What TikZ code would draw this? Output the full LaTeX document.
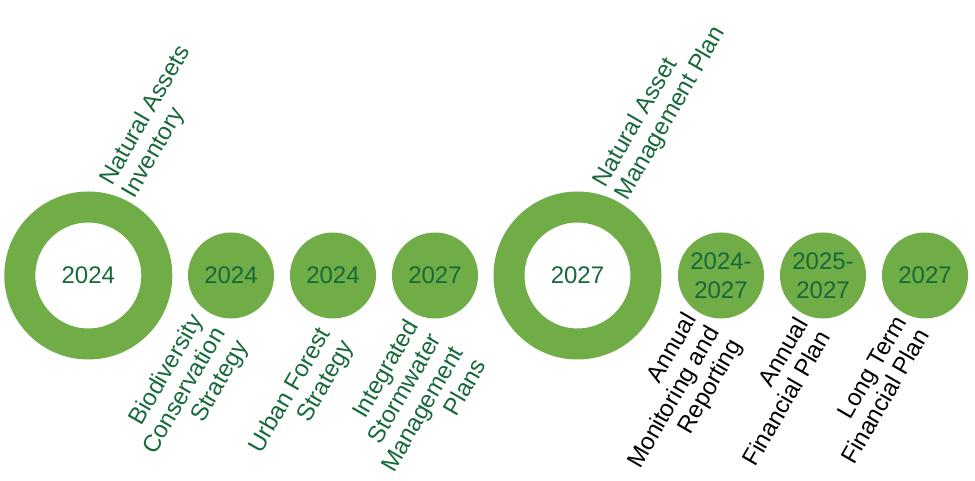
\documentclass[tikz,border=0pt]{standalone}
\usepackage{fontspec}
\setmainfont{Liberation Sans}
\definecolor{ringgreen}{HTML}{70AD47}
\definecolor{txtgreen}{HTML}{17693A}
\begin{document}
\begin{tikzpicture}[x=1pt,y=1pt,
  ringnode/.style={circle, draw=ringgreen, line width=31pt, minimum size=137pt, inner sep=0pt,
    text=txtgreen, font=\fontsize{24}{29}\selectfont, align=center},
  dotnode/.style={circle, fill=ringgreen, minimum size=86pt, inner sep=0pt,
    text=txtgreen, font=\fontsize{24}{29}\selectfont, align=center},
  lbl/.style={rotate=60, inner sep=0pt, font=\fontsize{24}{26}\selectfont},
  toplbl/.style={lbl, text=txtgreen, align=left, anchor=north west},
  botlbl/.style={lbl, align=right, anchor=north east},
  botgreen/.style={botlbl, text=txtgreen},
  botblack/.style={botlbl, text=black}]
\useasboundingbox (0,0) rectangle (975,481);
% circles
\node[ringnode] (r1) at (88.3,205.5) {2024};
\node[dotnode] (c1) at (231,205.5) {2024};
\node[dotnode] (c2) at (333,205.5) {2024};
\node[dotnode] (c3) at (435,205.5) {2027};
\node[ringnode] (r2) at (577.5,205.5) {2027};
\node[dotnode] (c5) at (721,205.5) {2024-\\2027};
\node[dotnode] (c6) at (823,205.5) {2025-\\2027};
\node[dotnode] (c7) at (925,205.5) {2027};
% labels above
\node[toplbl] (t1) at (97.1,303.6) {Natural Assets\\Inventory};
\node[toplbl] (t2) at (590.1,301.6) {Natural Asset\\Management Plan};
% labels below
\node[botgreen] (b1) at (188.1,169.6) {Biodiversity\\Conservation\\Strategy};
\node[botgreen] (b2) at (316.1,156.6) {Urban Forest\\Strategy};
\node[botgreen] (b3) at (404.1,163.6) {Integrated\\Stormwater\\Management\\Plans};
\node[botblack] (b5) at (682.1,170.6) {Annual\\Monitoring and\\Reporting};
\node[botblack] (b6) at (793.6,165.9) {Annual\\Financial Plan};
\node[botblack] (b7) at (893.1,167.6) {Long Term\\Financial Plan};
\end{tikzpicture}
\end{document}
